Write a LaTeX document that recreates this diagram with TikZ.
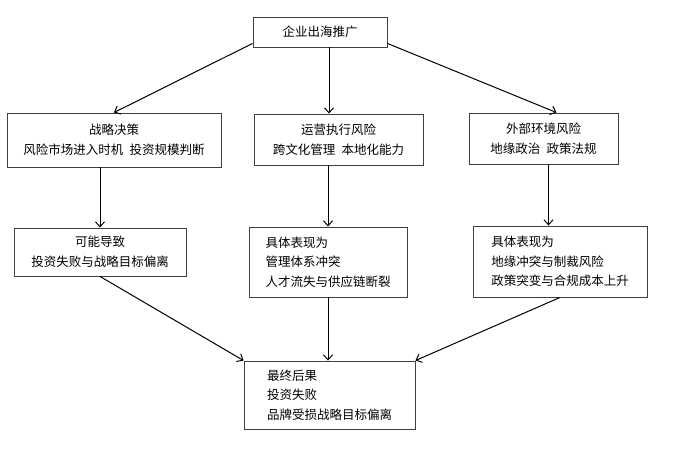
\documentclass[tikz,border=0pt]{standalone}
\usepackage{fontspec}
\newfontfamily\cjk{Noto Sans CJK SC}
\usepackage{tikz}
\usetikzlibrary{arrows.meta, positioning, calc}

\begin{document}
\begin{tikzpicture}[x=1pt, y=-1pt,
				>={Straight Barb[length=5pt,width=9pt]},   %Pfeilspitzen
				kasten/.style={draw=black!75, line width=0.9pt, inner sep=0pt, align=center,
					font=\cjk\fontsize{12.5}{19.5}\selectfont},
				linksbox/.style={kasten, align=left},
				pfeil/.style={->, line width=1pt}]
				\useasboundingbox (0,0) rectangle (691,454);
				% Kaesten zeichnen
				\node[kasten, minimum width=134pt, minimum height=30pt] (qiye) at (320,32) {企业出海推广};
				\node[kasten, minimum width=214pt, minimum height=54pt] (strat) at (114,140) {战略决策\\风险市场进入时机\enspace 投资规模判断};
				\node[kasten, minimum width=169pt, minimum height=51pt] (oper) at (338.5,139.5) {运营执行风险\\跨文化管理\enspace 本地化能力};
				\node[kasten, minimum width=149pt, minimum height=51pt] (ext) at (543.5,138.5) {外部环境风险\\地缘政治\enspace 政策法规};
				\node[kasten, minimum width=172pt, minimum height=48pt] (maylead) at (100,252) {可能导致\\投资失败与战略目标偏离};
				\node[linksbox, minimum width=158pt, minimum height=70pt] (midshow) at (328,262) {具体表现为\\管理体系冲突\\人才流失与供应链断裂};
				\node[linksbox, minimum width=174pt, minimum height=71pt] (rightshow) at (560,261.5) {具体表现为\\地缘冲突与制裁风险\\政策突变与合规成本上升};
				\node[linksbox, minimum width=171pt, minimum height=68pt] (final) at (329.5,395) {最终后果\\投资失败\\品牌受损战略目标偏离};
				% Pfeile oben
				\draw[pfeil] ([yshift=4pt]qiye.south west) -- (strat.north);
				\draw[pfeil] ([xshift=9pt]qiye.south) -- ([xshift=9pt]qiye.south |- oper.north);
				\draw[pfeil] ([yshift=4pt]qiye.south east) -- ([xshift=13pt]ext.north);
				% Pfeile Mitte
				\draw[pfeil] (maylead.north |- strat.south) -- (maylead.north);
				\draw[pfeil] (midshow.north |- oper.south) -- (midshow.north);
				\draw[pfeil] ([xshift=5pt]ext.south) -- ([xshift=5pt]ext.south |- rightshow.north);
				% Pfeile unten
				\draw[pfeil] (maylead.south) -- (final.north west);
				\draw[pfeil] (midshow.south) -- (midshow.south |- final.north);
				\draw[pfeil] (rightshow.south) -- (final.north east);
\end{tikzpicture}
\end{document}
